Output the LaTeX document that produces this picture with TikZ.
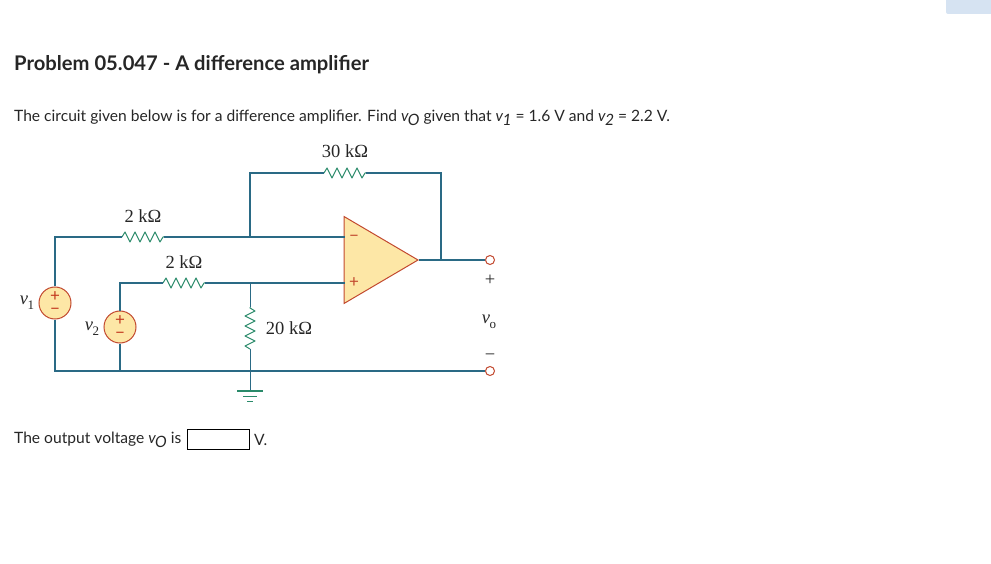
\documentclass[tikz,border=0pt]{standalone}
\usepackage{fontspec}
\setmainfont{Lato}
\newfontfamily\circuitfont{Liberation Serif}
\usetikzlibrary{positioning}
\usetikzlibrary{shapes.geometric}

\definecolor{wirecol}{HTML}{2A6A85}
\definecolor{rescol}{HTML}{2A8A6A}
\definecolor{edgecol}{HTML}{C2492F}
\definecolor{fillcol}{HTML}{FDE7A6}
\definecolor{signcol}{HTML}{C2381F}
\definecolor{btncol}{HTML}{D6E3F2}

\newcommand{\varsub}[2]{{\itshape #1}\hspace{-0.04em}\raisebox{-0.28em}{\itshape #2}}
\newcommand{\cirsub}[2]{{\itshape #1}\hspace{-0.02em}\raisebox{-0.25em}{\fontsize{13}{13}\selectfont #2}}

\tikzset{
  every picture/.style={x=1pt,y=-1pt},
  every node/.style={text=black!85},
  wire/.style={draw=wirecol,line width=1.1pt},
  res/.style={minimum width=42pt,minimum height=14pt,inner sep=0pt,
    path picture={
      \draw [rescol,line width=1pt,line join=round,x=1pt,y=1pt]
        (-21,0) -- (-18,5) -- (-13,-5) -- (-8,5) -- (-3,-5) -- (2,5)
        -- (7,-5) -- (12,5) -- (17,-5) -- (20,0) -- (21,0);
    }},
  source/.style={circle,draw=edgecol,fill=fillcol,line width=1pt,
    minimum size=32pt,inner sep=0pt,text=signcol,align=center,
    font=\fontsize{17}{13}\selectfont},
  sign/.style={inner sep=0pt,text=edgecol,text height=9pt,text depth=0pt,
    font=\fontsize{17}{17}\selectfont},
  terminal/.style={circle,draw=edgecol,fill=white,line width=1pt,
    minimum size=9pt,inner sep=0pt},
  cirlabel/.style={inner sep=0pt,font=\circuitfont\fontsize{18.5}{18.5}\selectfont},
  textline/.style={inner sep=0pt,anchor=west,font=\fontsize{15.6}{15.6}\selectfont},
}

\begin{document}
\begin{tikzpicture}
  \useasboundingbox (0,0) rectangle (991,564);

  \fill [btncol,rounded corners=2pt] (946,-5) rectangle (996,14);

  % question text
  \node [textline,font=\bfseries\fontsize{20.2}{20.2}\selectfont] (title) at (14,65)
    {Problem 05.047 - A difference amplifier};
  \node [textline] (intro) at (14,117.5)
    {The circuit given below is for a difference amplifier. Find \varsub{v}{O} given that \varsub{v}{1} = 1.6 V and \varsub{v}{2} = 2.2 V.};
  \node [textline] (answer) at (14,440) {The output voltage \varsub{v}{O} is};
  \node [draw=black,line width=1pt,minimum width=62pt,minimum height=20pt,inner sep=0pt] (box) at (218,439) {};
  \node [textline] (unit) at (254,440) {V.};

  % parts
  \node [source] (vone) at (55,303) {+\\\textminus};
  \node [source] (vtwo) at (120,327) {+\\\textminus};
  \node [res] (rone) at (143,237) {};
  \node [res] (rtwo) at (184,283) {};
  \node [res] (rf) at (345,173) {};
  \node [res,rotate=90] (rg) at (250,328) {};
  \node [isosceles triangle,isosceles triangle apex angle=60,isosceles triangle stretches,
    draw=edgecol,fill=fillcol,line width=1pt,inner sep=0pt,
    minimum width=87pt,minimum height=74pt,anchor=apex] (amp) at (419,260) {};
  \node [terminal] (outp) at (490,260) {};
  \node [terminal] (outn) at (490,371) {};

  % points on the wires
  \coordinate (minus) at (345,237);
  \coordinate (plus) at (345,283);
  \coordinate (jtop) at (250,237);
  \coordinate (jmid) at (250,283);
  \coordinate (jout) at (441,260);
  \coordinate (botl) at (55,371);
  \coordinate (gnd) at (250,391);

  % wires
  \draw [wire] (vone.north) |- (rone.west);
  \draw [wire] (rone.east) -- (minus);
  \draw [wire] (vtwo.north) |- (rtwo.west);
  \draw [wire] (rtwo.east) -- (plus);
  \draw [wire] (jtop) |- (rf.west);
  \draw [wire] (rf.east) -| (jout);
  \draw [wire,line width=1.4pt] (amp.east) -- (outp.west);
  \draw [wire] (vone.south) -- (botl) -- (outn.west);
  \draw [wire] (vtwo.south) -- (vtwo.south |- botl);
  \draw [wire,line width=1pt] (jmid) -- (rg.east);
  \draw [wire,line width=1pt] (rg.west) -- (gnd);

  % ground
  \draw [rescol,line width=1.3pt] (237,391) -- (263,391);
  \draw [rescol,line width=1pt] (243,396) -- (257,396);
  \draw [rescol,line width=1pt] (247,401) -- (253,401);

  % signs
  \node [sign] (ampminus) at (354,237) {\textminus};
  \node [sign] (ampplus) at (354,283) {+};

  % labels
  \node [cirlabel,above=7pt of rone] (ronelabel) {2 kΩ};
  \node [cirlabel,above=7pt of rtwo] (rtwolabel) {2 kΩ};
  \node [cirlabel,above=8pt of rf] (rflabel) {30 kΩ};
  \node [cirlabel] (rglabel) at (289,328) {20 kΩ};
  \node [cirlabel] (vonelabel) at (27,303) {\cirsub{v}{1}};
  \node [cirlabel] (vtwolabel) at (92,329) {\cirsub{v}{2}};
  \node [cirlabel] (outplus) at (490,280) {+};
  \node [cirlabel] (outlabel) at (489,322) {\cirsub{v}{o}};
  \node [cirlabel] (outminus) at (490,357) {\textminus};
\end{tikzpicture}
\end{document}
